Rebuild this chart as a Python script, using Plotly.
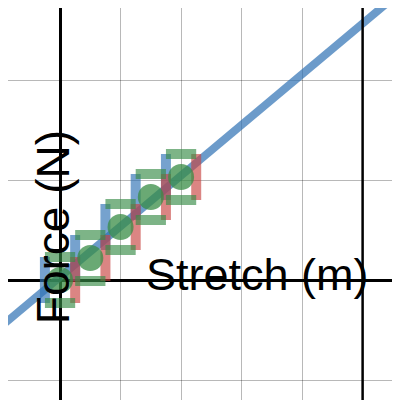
import plotly.graph_objects as go

stretch = [0.0, 0.5, 1.0, 1.5, 2.0]
force = [0.0, 0.22, 0.53, 0.83, 1.03]
x_err = 0.25
y_err = 0.23
fit_slope = 0.507
fit_intercept = 0.03
fit_x = [-1.2, 6.0]
limit_x = [5.0, 5.0]
limit_y = [-2, 4]

fig = go.Figure()
fit_y = [fit_slope * x + fit_intercept for x in fit_x]
fig.add_trace(go.Scatter(x=fit_x, y=fit_y, mode="lines",
                         line=dict(color="rgba(45,112,179,0.7)", width=8)))
fig.add_trace(go.Scatter(x=limit_x, y=limit_y, mode="lines",
                         line=dict(color="black", width=2.5)))

bx, by, rx, ry, gx, gy = [], [], [], [], [], []
for x, y in zip(stretch, force):
    bx += [x - x_err, x - x_err, None]; by += [y - y_err, y + y_err, None]
    rx += [x + x_err, x + x_err, None]; ry += [y - y_err, y + y_err, None]
    gx += [x - x_err, x + x_err, None, x - x_err, x + x_err, None]
    gy += [y + y_err, y + y_err, None, y - y_err, y - y_err, None]
fig.add_trace(go.Scatter(x=bx, y=by, mode="lines", line=dict(color="rgba(45,112,179,0.65)", width=10)))
fig.add_trace(go.Scatter(x=rx, y=ry, mode="lines", line=dict(color="rgba(199,68,64,0.65)", width=10)))
fig.add_trace(go.Scatter(x=gx, y=gy, mode="lines", line=dict(color="rgba(56,140,70,0.65)", width=10)))
fig.add_trace(go.Scatter(x=stretch, y=force, mode="markers",
                         marker=dict(color="rgba(56,140,70,0.75)", size=26)))

fig.add_annotation(text="Stretch (m)", x=0.623, y=0.265, xref="paper", yref="paper",
                   showarrow=False, font=dict(size=45, family="Liberation Sans", color="black"))
fig.add_annotation(text="Force (N)", x=0.043, y=0.70, xref="paper", yref="paper",
                   textangle=-90, showarrow=False,
                   font=dict(size=46, family="Liberation Sans", color="black"))

axis = dict(showgrid=True, gridcolor="rgba(0,0,0,0.28)", gridwidth=1, dtick=1,
            zeroline=True, zerolinecolor="black", zerolinewidth=3,
            showticklabels=False, ticks="", showline=False)
fig.update_xaxes(range=[-0.86, 5.75], **axis)
fig.update_yaxes(range=[-1.28, 2.72], **axis)
fig.update_layout(width=400, height=400, margin=dict(l=0, r=0, t=0, b=0),
                  plot_bgcolor="white", paper_bgcolor="white", showlegend=False)
fig.write_html("out.html")
